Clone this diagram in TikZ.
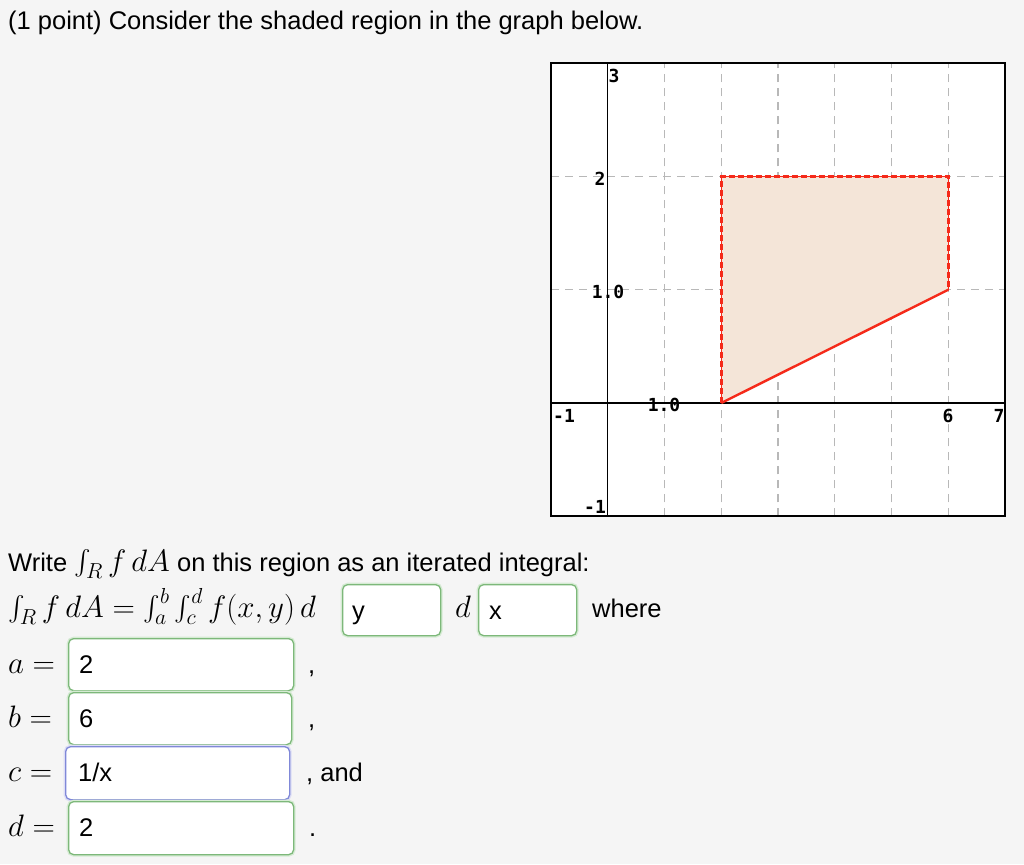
\RequirePackage{fix-cm}
\documentclass[tikz,border=0pt]{standalone}
\usepackage{exscale}
\usepackage{fontspec}
\setmainfont{Liberation Sans}
\newfontfamily\tickfont{DejaVu Sans Mono Bold}
\newcommand{\mathbigsize}{\fontsize{31}{36}\selectfont}
\definecolor{bg}{HTML}{F5F5F5}
\definecolor{gridgray}{HTML}{B8B8B8}
\definecolor{regfill}{HTML}{F4E5D8}
\definecolor{regred}{HTML}{F52A1A}
\definecolor{boxgreen}{HTML}{7DB87A}
\definecolor{boxglow}{HTML}{D6EBD4}
\definecolor{boxblue}{HTML}{8088D8}
\definecolor{blueglow}{HTML}{DCDDF5}
\begin{document}
\begin{tikzpicture}[x=1pt,y=-1pt,
  txt/.style={inner sep=0pt, anchor=base west, font=\fontsize{25.5}{30}\selectfont},
  mth/.style={inner sep=0pt, anchor=base west, font=\mathbigsize},
  tick/.style={inner sep=0pt, font=\tickfont\fontsize{18}{20}\selectfont},
  inbox/.style={draw=boxgreen, fill=white, line width=1.3pt, rounded corners=5pt,
    preaction={draw=boxglow, line width=4pt, rounded corners=5pt}},
  inboxblue/.style={draw=boxblue, fill=white, line width=1.3pt, rounded corners=5pt,
    preaction={draw=blueglow, line width=4pt, rounded corners=5pt}},
  gridline/.style={gridgray, line width=1.2pt, dash pattern=on 8pt off 6pt}]
\useasboundingbox[fill=bg] (0,0) rectangle (1024,864);

% title
\node[txt] (title) at (8,30) {(1 point) Consider the shaded region in the graph below.};

% graph frame
\fill[white] (551,63) rectangle (1005,516);
\begin{scope}[shift={(607.75pt,-403pt)}, x=56.75pt, y=113.25pt]
  \foreach \u in {1,...,6} \draw[gridline] (\u,-1) -- (\u,3);
  \foreach \v in {1,2} \draw[gridline] (-1,\v) -- (7,\v);
  % region
  \coordinate (p1) at (2,0);
  \coordinate (p2) at (2,2);
  \coordinate (p3) at (6,2);
  \coordinate (p4) at (6,1);
  \fill[regfill] (p1) -- (p2) -- (p3) -- (p4) -- cycle;
  \draw[black, line width=1.3pt] (-1,0) -- (7,0);
  \draw[black, line width=1.3pt] (0,-1) -- (0,3);
  \draw[regred, line width=1pt] (p1) -- (p2) -- (p3) -- (p4);
  \draw[regred, line width=2.8pt, dash pattern=on 6pt off 3pt] (p1) -- (p2) -- (p3) -- (p4);
  \draw[regred, line width=2.4pt] (p4) -- (p1);
\end{scope}
% tick labels
\node[tick] (t3) at (614,76) {3};
\node[tick] (t2) at (600,179) {2};
\node[tick] (t1y) at (608,292) {1.0};
\node[tick] (t1x) at (664,405) {1.0};
\node[tick] (tm1x) at (564,416) {-1};
\node[tick] (t6) at (948,416) {6};
\node[tick] (t7) at (999,416) {7};
\node[tick] (tm1y) at (595,507) {-1};
\fill[bg] (1005,63) rectangle (1024,516);
\draw[black, line width=1.5pt] (551,63) rectangle (1005,516);

% text lines
\node[txt] (write) at (8,571) {Write {\mathbigsize$\int_R f\,dA$} on this region as an iterated integral:};
\node[mth] (integ) at (8,617) {$\int_R f\,dA = \int_a^b \int_c^d f(x,y)\,d$};
\node[inbox, minimum width=98pt, minimum height=51pt, anchor=north west] (by) at (342,584) {};
\node[txt] (vy) at (352,619) {y};
\node[mth] (dd) at (455,617) {$d$};
\node[inbox, minimum width=98pt, minimum height=51pt, anchor=north west] (bx) at (478,584) {};
\node[txt] (vx) at (489,619) {x};
\node[txt] (where) at (592,617) {where};

% a
\node[mth] (la) at (8,673) {$a =$};
\node[inbox, minimum width=225pt, minimum height=52pt, anchor=north west] (ba) at (68,638) {};
\node[txt] (va) at (79,673) {2};
\node[txt] (ca) at (308,673) {,};
% b
\node[mth] (lb) at (8,727) {$b =$};
\node[inbox, minimum width=223pt, minimum height=52pt, anchor=north west] (bb) at (68,692) {};
\node[txt] (vb) at (79,727) {6};
\node[txt] (cb) at (308,727) {,};
% c
\node[mth] (lc) at (8,781) {$c =$};
\node[inboxblue, minimum width=224pt, minimum height=53pt, anchor=north west] (bc) at (65,746) {};
\node[txt] (vc) at (78,781) {1/x};
\node[txt] (cc) at (306,781) {, and};
% d
\node[mth] (ld) at (8,836) {$d =$};
\node[inbox, minimum width=225pt, minimum height=53pt, anchor=north west] (bd) at (68,801) {};
\node[txt] (vd) at (79,836) {2};
\node[txt] (pd) at (309,836) {.};
\end{tikzpicture}
\end{document}
